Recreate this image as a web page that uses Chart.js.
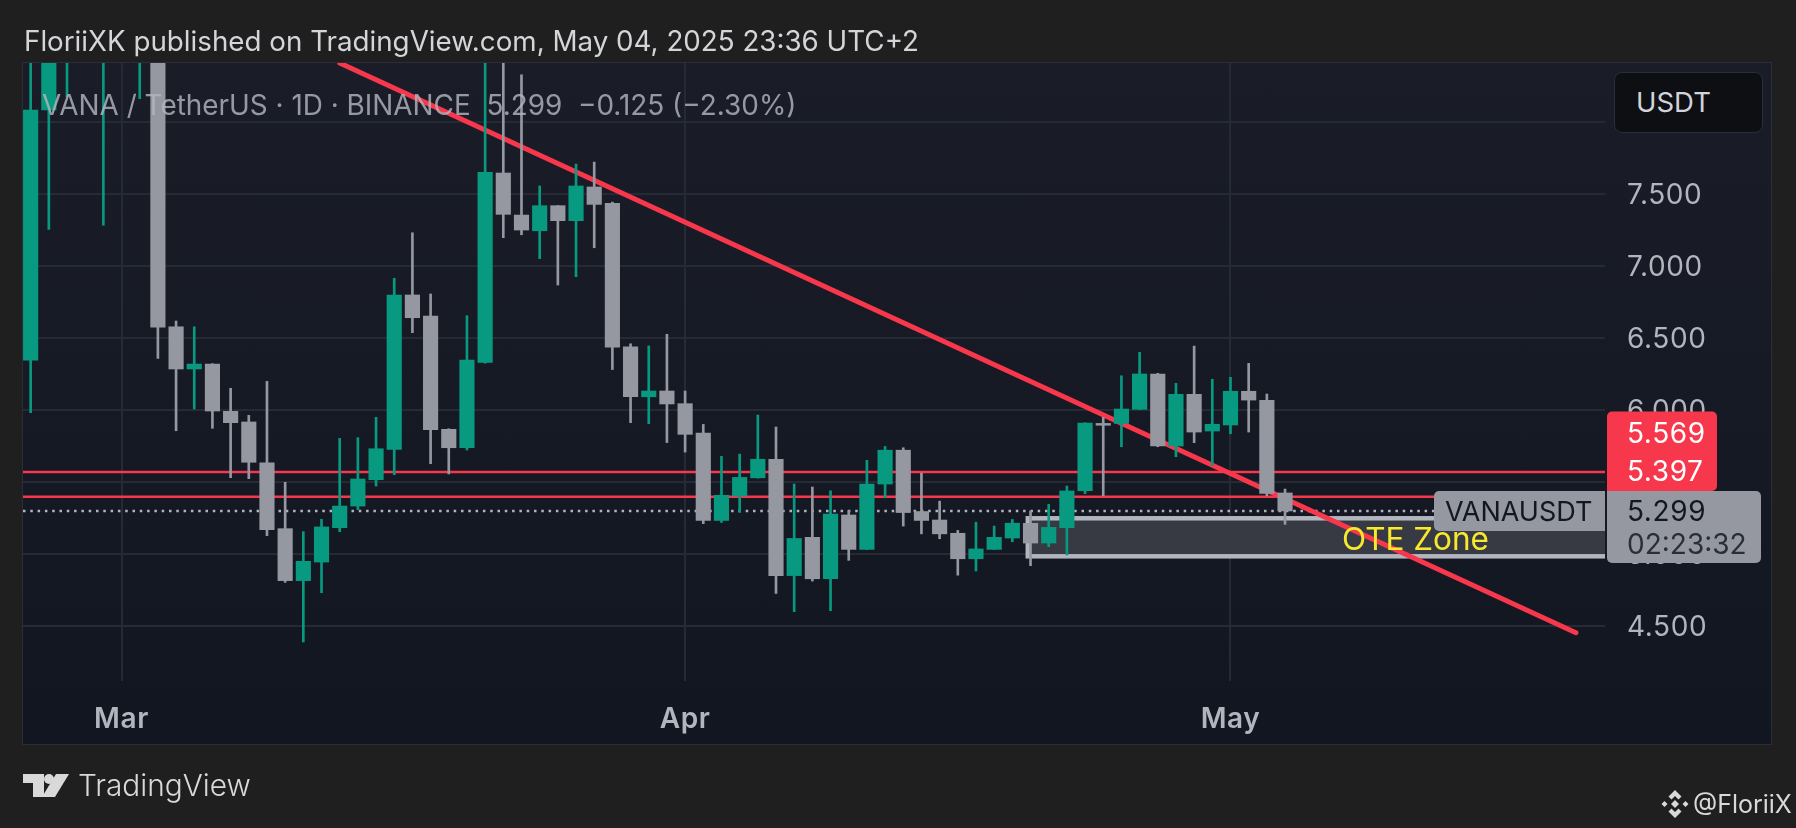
<!DOCTYPE html><html lang="en">
<head>
<meta charset="utf-8"/>
<title>VANA / TetherUS 1D</title>
<script src="https://cdn.jsdelivr.net/npm/chart.js"></script>
<style>
  html,body{margin:0;padding:0;background:#1f1f1f;width:1796px;height:828px;overflow:hidden}
  body{font-family:Inter,sans-serif;position:relative}
  #panel{position:absolute;left:22px;top:62px;width:1750px;height:683px;box-sizing:border-box;border:1px solid #2a2e39;background:linear-gradient(#1a1d28,#121620)}
  canvas{position:absolute;left:0;top:0}
  .txt{position:absolute;white-space:pre;line-height:1}
  #head{left:24px;top:28px;font-size:27.75px;color:#d4d5d8}
  #legend{left:42px;top:92px;font-size:27.9px;color:rgba(178,181,190,.82)}
  #unit{left:1614px;top:72px;width:149px;height:61px;box-sizing:border-box;background:#0e0f12;border:1px solid #2a2e39;border-radius:8px;font-size:27.5px;color:#d1d4dc;padding:16px 0 0 21px}
  #brand{left:78px;top:771px;font-size:29.8px;font-weight:300;color:#d9d9d9}
  #logo{position:absolute;left:23px;top:774px}
  #tag{left:1693px;top:792px;font-size:25px;color:#d9d9d9}
  #coin{position:absolute;left:1661px;top:790px}
</style>
</head>
<body>
<div id="panel"></div>
<canvas id="chart" width="1796" height="828"></canvas>
<div class="txt" id="head">FloriiXK published on TradingView.com, May 04, 2025 23:36 UTC+2</div>
<div class="txt" id="legend">VANA / TetherUS · 1D · BINANCE  5.299  −0.125 (−2.30%)</div>
<div class="txt" id="unit">USDT</div>
<svg id="logo" width="46" height="23" viewBox="0 0 46 23" fill="#d9d9d9"><path d="M0 0h21v23H10V9H0z"/><circle cx="26" cy="5" r="5"/><path d="M33 0h13L32 23H19z"/></svg>
<div class="txt" id="brand">TradingView</div>
<svg id="coin" width="28" height="28" viewBox="0 0 28 28" fill="#d9d9d9"><path d="M14 0l6.500 6.500-3 3L14 6l-3.500 3.500-3-3zM14 28l-6.500-6.500 3-3L14 22l3.500-3.500 3 3zM3.500 11l3 3-3 3-3-3zM24.500 11l3 3-3 3-3-3zM14 10l4 4-4 4-4-4z"/></svg>
<div class="txt" id="tag">@FloriiX</div>
<script>
// daily candles, first one is Feb 24 (values above the top edge are guesses)
const open = [6.347,8.085,9.5,9.9,8.9,9.4,9.0,9.6,6.578,6.285,6.319,5.991,5.917,5.634,5.176,4.815,4.944,5.183,5.333,5.516,
  5.727,6.799,6.653,5.866,5.738,6.331,7.646,7.354,7.245,7.419,7.315,7.549,7.435,6.438,6.092,6.132,6.044,5.840,5.233,5.403,
  5.529,5.658,4.850,5.116,4.828,5.271,5.032,5.486,5.721,5.295,5.236,5.144,4.967,5.032,5.111,5.213,5.076,5.183,5.440,5.907,
  5.907,6.005,6.250,5.750,6.109,5.854,5.896,6.130,6.067,5.424];
const high = [8.9,10.2,10.4,10.3,9.9,9.7,10.1,10.0,6.618,6.578,6.322,6.151,5.963,6.199,5.498,5.155,5.241,5.803,5.808,5.949,
  6.915,7.231,6.806,5.870,6.655,8.6,8.6,8.328,7.556,7.420,7.708,7.722,7.444,6.460,6.445,6.526,6.132,5.900,5.678,5.694,
  5.965,5.882,5.486,5.465,5.439,5.302,5.651,5.747,5.738,5.562,5.367,5.164,5.221,5.194,5.240,5.299,5.345,5.472,5.912,5.949,
  6.238,6.401,6.255,6.185,6.444,6.213,6.227,6.324,6.111,5.451];
const low = [5.981,7.255,8.176,8.9,7.283,8.7,8.162,6.359,5.856,6.007,5.873,5.530,5.523,5.127,4.803,4.389,4.731,5.155,5.308,5.472,
  5.551,6.537,5.627,5.556,5.722,6.326,7.197,7.217,7.051,6.868,6.926,7.127,6.281,5.912,5.905,5.774,5.708,5.211,5.219,5.290,
  5.527,4.726,4.599,4.812,4.606,4.956,5.030,5.391,5.194,5.140,5.106,4.853,4.882,5.031,5.085,4.919,5.051,4.993,5.419,5.405,
  5.745,6.003,5.745,5.676,5.773,5.616,5.835,5.847,5.405,5.206];
const close = [8.083,9.6,9.9,9.2,9.4,9.0,9.6,6.576,6.285,6.319,5.993,5.912,5.637,5.169,4.815,4.949,5.188,5.333,5.521,5.731,
  6.799,6.641,5.863,5.738,6.347,7.651,7.359,7.250,7.419,7.315,7.556,7.428,6.436,6.092,6.132,6.042,5.831,5.233,5.408,5.532,
  5.658,4.850,5.108,4.828,5.278,5.032,5.486,5.721,5.288,5.233,5.140,4.967,5.035,5.116,5.214,5.076,5.185,5.438,5.910,5.894,
  6.007,6.250,5.750,6.109,5.847,5.901,6.130,6.069,5.421,5.299];

const monthTicks = [5, 36, 66];
const monthNames = ['Mar', 'Apr', 'May'];
const priceTicks = [4.5, 5, 5.5, 6, 6.5, 7, 7.5, 8];
const levels = [5.569, 5.397];
const lastPrice = 5.299;
const countdown = '02:23:32';
const symbol = 'VANAUSDT';
const trendX = [17, 85];
const trendY = [8.41, 4.453];
const oteTop = 5.248, oteBottom = 4.984, oteStart = 54.85;
const oteName = 'OTE Zone';
const xMin = -0.42, xMax = 86.6, yMin = 4.118, yMax = 8.41;

const GREEN = '#089981', GRAY = '#9598a1', RED = '#f7374b', GRID = '#262a35';
const colors = open.map((o, i) => close[i] >= o ? GREEN : GRAY);
const hLine = v => [{x: xMin, y: v}, {x: xMax, y: v}];

const overlay = {
  id: 'overlay',
  beforeDraw(c){
    c.ctx.letterSpacing = '0.6px';   // price digits sit wider in the original
  },
  beforeDatasetsDraw(c){
    // OTE box under the candles, runs off to the right
    const ctx = c.ctx, x = c.scales.x, y = c.scales.y;
    const x0 = x.getPixelForValue(oteStart), x1 = c.chartArea.right;
    const t = y.getPixelForValue(oteTop), b = y.getPixelForValue(oteBottom);
    ctx.save();
    ctx.beginPath(); ctx.rect(c.chartArea.left, c.chartArea.top, c.chartArea.width, c.chartArea.height); ctx.clip();
    ctx.fillStyle = '#373a42';
    ctx.fillRect(x0, t, x1 - x0, b - t);
    ctx.strokeStyle = '#b2b5be'; ctx.lineWidth = 4.5;
    ctx.strokeRect(x0, t, x1 + 10 - x0, b - t);
    ctx.restore();
  },
  afterDatasetsDraw(c){
    const ctx = c.ctx, y = c.scales.y, right = c.chartArea.right;
    const h = 39.7, ax = right + 2;
    const lastY = y.getPixelForValue(lastPrice);
    const top = lastY - 20;
    ctx.save();
    ctx.textBaseline = 'middle';
    // zone name
    ctx.letterSpacing = '0px';
    ctx.font = '31.5px Inter'; ctx.fillStyle = '#f6e92e';
    ctx.fillText(oteName, 1342, 541);
    // red level tags, stacked up from the last price tag
    ctx.letterSpacing = '0.6px';
    ctx.font = '28px Inter';
    ctx.fillStyle = RED;
    ctx.beginPath(); ctx.roundRect(ax, top - h * 2, 110, h * 2, [5, 5, 5, 0]); ctx.fill();
    ctx.fillStyle = '#fff';
    ctx.fillText(levels[0].toFixed(3), 1627, top - h * 1.5 + 3);
    ctx.fillText(levels[1].toFixed(3), 1627, top - h * 0.5 + 1);
    // last price tag with countdown
    ctx.fillStyle = GRAY;
    ctx.beginPath(); ctx.roundRect(ax, top, 154, 72, [0, 5, 5, 5]); ctx.fill();
    ctx.beginPath(); ctx.roundRect(1434, top, right - 1434, 40, [5, 0, 0, 5]); ctx.fill();
    ctx.fillStyle = '#131722';
    ctx.fillText(lastPrice.toFixed(3), 1627, top + 22);
    ctx.letterSpacing = '0px';
    ctx.font = '27px Inter';
    ctx.fillText(symbol, 1445, top + 22);
    ctx.fillStyle = '#2a2e39'; ctx.font = '28px Inter';
    ctx.fillText(countdown, 1627, top + 55);
    ctx.restore();
  }
};

new Chart(document.getElementById('chart'), {
  data: {
    datasets: [
      {type: 'line', order: 3, data: trendX.map((v, i) => ({x: v, y: trendY[i]})), borderColor: RED, borderWidth: 5, pointRadius: 0, borderCapStyle: 'round'},
      {type: 'line', order: 4, data: hLine(levels[0]), borderColor: RED, borderWidth: 2.5, pointRadius: 0},
      {type: 'line', order: 4, data: hLine(levels[1]), borderColor: RED, borderWidth: 2.5, pointRadius: 0},
      {type: 'line', order: 5, data: hLine(lastPrice), borderColor: '#b2b5be', borderWidth: 2.5, borderDash: [2.5, 4.8], pointRadius: 0},
      {type: 'bar', order: 2, grouped: false, barThickness: 2, backgroundColor: colors, data: open.map((_, i) => ({x: i, y: [low[i], high[i]]}))},
      {type: 'bar', order: 1, grouped: false, barThickness: 14.5, backgroundColor: colors, data: open.map((o, i) => ({x: i, y: [o, close[i]]}))}
    ]
  },
  options: {
    responsive: false,
    animation: false,
    events: [],
    layout: {padding: {left: 23, top: 63, right: 0, bottom: 0}},
    plugins: {legend: {display: false}, tooltip: {enabled: false}},
    scales: {
      x: {
        type: 'linear', min: xMin, max: xMax, offset: false,
        afterFit: s => { s.height = 147; },
        afterBuildTicks: s => { s.ticks = monthTicks.map(v => ({value: v})); },
        grid: {color: GRID, lineWidth: 2, drawTicks: false, offset: false},
        border: {display: false},
        ticks: {
          autoSkip: false, maxRotation: 0, padding: 22, color: '#b2b5be',
          font: {family: 'Inter', size: 28, weight: '600'},
          callback: v => monthNames[monthTicks.indexOf(v)]
        }
      },
      y: {
        position: 'right', min: yMin, max: yMax,
        afterFit: s => { s.width = 191; },
        afterBuildTicks: s => { s.ticks = priceTicks.map(v => ({value: v})); },
        grid: {color: GRID, lineWidth: 2, drawTicks: false},
        border: {display: false},
        ticks: {
          padding: 22, color: '#b2b5be', labelOffset: 2,
          font: {family: 'Inter', size: 28},
          callback: v => v.toFixed(3)
        }
      }
    }
  },
  plugins: [overlay]
});
</script>
</body>
</html>
